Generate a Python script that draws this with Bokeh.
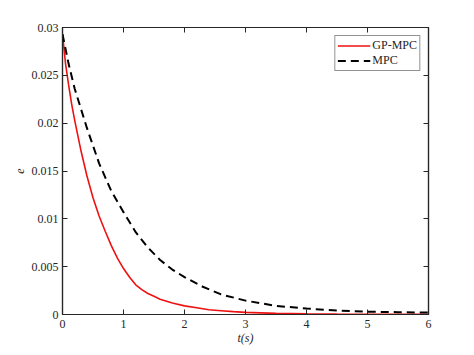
from bokeh.plotting import figure
from bokeh.models import LinearAxis, FixedTicker, Range1d, Legend, LegendItem, CustomLabelingPolicy
from bokeh.embed import file_html
from bokeh.resources import INLINE

# GP-MPC (solid red)
t_gp = [0, 0.05, 0.1, 0.15, 0.2, 0.3, 0.4, 0.5, 0.6, 0.7, 0.8, 0.9, 1.0, 1.1, 1.2, 1.3,
        1.4, 1.5, 1.6, 1.8, 2.0, 2.2, 2.4, 2.6, 2.8, 3.0, 3.5, 4.0, 4.5, 5.0, 5.5, 6.0]
e_gp = [0.0293, 0.0262, 0.0240, 0.0220, 0.0203, 0.0172, 0.0145, 0.0122, 0.0103, 0.0087,
        0.0072, 0.0059, 0.0048, 0.0039, 0.0031, 0.0026, 0.0022, 0.0019, 0.0016, 0.0012,
        0.0009, 0.0007, 0.0005, 0.0004, 0.0003, 0.00022, 0.00012, 0.00007, 0.00004,
        0.00003, 0.00002, 0.00001]

# MPC (dashed black)
t_mpc = [0, 0.1, 0.2, 0.4, 0.6, 0.8, 1.0, 1.2, 1.4, 1.6, 1.8, 2.0, 2.3, 2.6, 3.0,
         3.5, 4.0, 4.5, 5.0, 5.5, 6.0]
e_mpc = [0.0293, 0.0262, 0.0236, 0.0195, 0.0158, 0.0129, 0.0107, 0.0086, 0.0070, 0.0057,
         0.0047, 0.0039, 0.0029, 0.0021, 0.00145, 0.0009, 0.00062, 0.00042, 0.0003, 0.00024, 0.0002]

x_ticks = [0, 1, 2, 3, 4, 5, 6]
y_ticks = [0, 0.005, 0.01, 0.015, 0.02, 0.025, 0.03]
y_tick_labels = ["0", "0.005", "0.01", "0.015", "0.02", "0.025", "0.03"]

FONT = "Liberation Serif"
FS = "12px"
INK = "#262626"

p = figure(width=466, height=347, output_backend="svg", toolbar_location=None,
           x_range=Range1d(0, 6), y_range=Range1d(0, 0.03),
           min_border_left=62, min_border_top=27, min_border_right=38, min_border_bottom=31)
p.background_fill_color = "white"
p.border_fill_color = "white"
p.grid.visible = False
p.outline_line_color = INK
p.outline_line_width = 1.2

def style(ax):
    ax.axis_line_color = INK
    ax.axis_line_width = 1.2
    ax.major_tick_in = 5
    ax.major_tick_out = 0
    ax.minor_tick_line_color = None
    ax.major_tick_line_color = INK
    ax.major_label_text_font = FONT
    ax.major_label_text_font_size = FS
    ax.major_label_text_color = INK
    ax.axis_label_text_font = FONT
    ax.axis_label_text_font_size = FS
    ax.axis_label_text_font_style = "italic"
    ax.axis_label_text_color = INK

xa = p.xaxis[0]
xa.ticker = FixedTicker(ticks=x_ticks)
xa.axis_label = "t(s)"
xa.major_label_standoff = 5
xa.axis_label_standoff = 0
style(xa)

ya = p.yaxis[0]
ya.ticker = FixedTicker(ticks=y_ticks)
ya.major_label_overrides = {v: s for v, s in zip(y_ticks, y_tick_labels)}
ya.axis_label = "e"
ya.major_label_standoff = 4
ya.axis_label_standoff = 5
style(ya)

no_labels = CustomLabelingPolicy(code="for (const i of indices) { indices.unset(i) }; return indices")

top = LinearAxis(ticker=FixedTicker(ticks=x_ticks), major_label_policy=no_labels)
style(top)
top.major_label_standoff = 0
p.add_layout(top, "above")
right = LinearAxis(ticker=FixedTicker(ticks=y_ticks), major_label_policy=no_labels)
style(right)
right.major_label_standoff = 0
p.add_layout(right, "right")

r1 = p.line(t_gp, e_gp, line_color="#ee1111", line_width=1.6)
r2 = p.line(t_mpc, e_mpc, line_color="black", line_width=2, line_dash="8 5")

leg = Legend(items=[LegendItem(label="GP-MPC", renderers=[r1]),
                    LegendItem(label="MPC", renderers=[r2])],
             location="top_right")
leg.label_text_font = FONT
leg.label_text_font_size = FS
leg.label_text_color = INK
leg.border_line_color = INK
leg.border_line_width = 1.2
leg.margin = 8
leg.padding = 2
leg.spacing = 0
leg.glyph_width = 33
leg.glyph_height = 13
leg.label_height = 13
leg.label_standoff = 2
p.add_layout(leg, "center")

open("out.html", "w").write(file_html(p, INLINE))
